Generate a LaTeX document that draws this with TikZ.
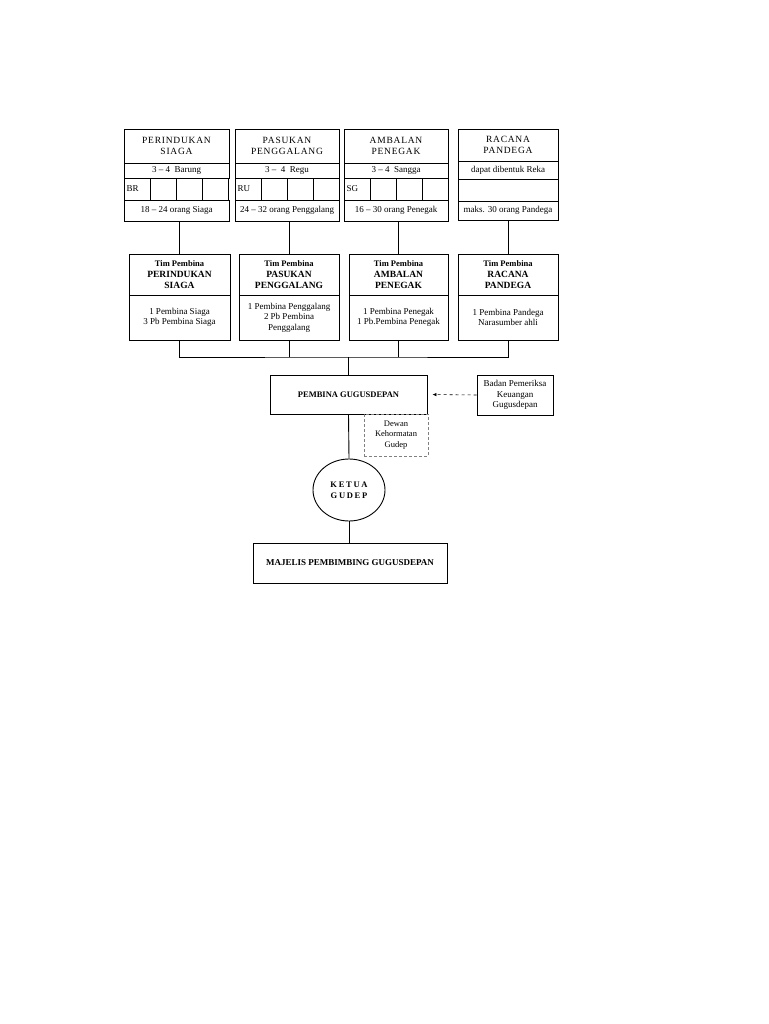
\documentclass[tikz,border=0pt]{standalone}
\usepackage{fontspec}
\setmainfont{Liberation Serif}
\usetikzlibrary{arrows.meta,shapes.geometric}

\tikzset{
  kotak/.style={draw, line width=0.9pt, inner sep=1pt, align=center,
    font=\fontsize{9}{10.5}\selectfont},
  judul/.style={kotak, font=\fontsize{9.5}{11.5}\selectfont\addfontfeature{LetterSpace=8}},
  tim/.style={kotak, font=\fontsize{9.5}{11}\selectfont\bfseries},
  garis/.style={line width=0.9pt},
}

\begin{document}
\begin{tikzpicture}[x=1pt, y=-1pt]
        \useasboundingbox (0,0) rectangle (768,1024);
        % satuan
        \node[judul, minimum width=105, minimum height=34] (J1) at (176.5,146) {PERINDUKAN\\SIAGA};
        \node[kotak, minimum width=105, minimum height=15] (K1) at (176.5,170.5) {3 -- 4 \ Barung};
        \node[kotak, minimum height=22, text width=21, inner xsep=2.5, align=left] (S1) at (137.1,189) {BR};
        \node[kotak, minimum width=105, minimum height=21] (B1) at (176.5,210.5) {18 -- 24 orang Siaga};
        \node[judul, minimum width=104, minimum height=34] (J2) at (287,146) {PASUKAN\\PENGGALANG};
        \node[kotak, minimum width=104, minimum height=15] (K2) at (287,170.5) {3 -- \ 4 \ Regu};
        \node[kotak, minimum height=22, text width=21, inner xsep=2.5, align=left] (S2) at (248,189) {RU};
        \node[kotak, minimum width=104, minimum height=21] (B2) at (287,210.5) {24 -- 32 orang Penggalang};
        \node[judul, minimum width=104, minimum height=34] (J3) at (396,146) {AMBALAN\\PENEGAK};
        \node[kotak, minimum width=104, minimum height=15] (K3) at (396,170.5) {3 -- 4 \ Sangga};
        \node[kotak, minimum height=22, text width=21, inner xsep=2.5, align=left] (S3) at (357,189) {SG};
        \node[kotak, minimum width=104, minimum height=21] (B3) at (396,210.5) {16 -- 30 orang Penegak};
        \node[judul, minimum width=100, minimum height=32] (J4) at (508,145) {RACANA\\PANDEGA};
        \node[kotak, minimum width=100, minimum height=18] (K4) at (508,170) {dapat dibentuk Reka};
        \node[kotak, minimum width=100, minimum height=22] (E4) at (508,190) {};
        \node[kotak, minimum width=100, minimum height=19] (B4) at (508,210.5) {maks. 30 orang Pandega};
        \foreach \i/\x in {1/124, 2/235, 3/344}
            \foreach \k in {1,2,3}
                \node[kotak, minimum width=26.2, minimum height=22] (S\i\k) at (\x+13.1+26.2*\k,189) {};
        % tim pembina
        \node[tim, minimum width=101, minimum height=41] (T1) at (179.5,274.5) {{\fontsize{8.5}{11}\selectfont Tim Pembina}\\PERINDUKAN\\SIAGA};
        \node[kotak, minimum width=101, minimum height=45] (U1) at (179.5,317.5) {1 Pembina Siaga\\3 Pb Pembina Siaga};
        \node[tim, minimum width=100, minimum height=41] (T2) at (289,274.5) {{\fontsize{8.5}{11}\selectfont Tim Pembina}\\PASUKAN\\PENGGALANG};
        \node[kotak, minimum width=100, minimum height=45] (U2) at (289,317.5) {1 Pembina Penggalang\\2 Pb Pembina\\Penggalang};
        \node[tim, minimum width=99, minimum height=41] (T3) at (398.5,274.5) {{\fontsize{8.5}{11}\selectfont Tim Pembina}\\AMBALAN\\PENEGAK};
        \node[kotak, minimum width=99, minimum height=45] (U3) at (398.5,317.5) {1 Pembina Penegak\\1 Pb.Pembina Penegak};
        \node[tim, minimum width=100, minimum height=41] (T4) at (508,274.5) {{\fontsize{8.5}{11}\selectfont Tim Pembina}\\RACANA\\PANDEGA};
        \node[kotak, minimum width=100, minimum height=45] (U4) at (508,317.5) {1 Pembina Pandega\\Narasumber ahli};
        \foreach \i in {1,...,4}
            \draw[garis] (T\i.north) -- (T\i.north |- B\i.south);
        % gugusdepan
        \node[kotak, minimum width=157, minimum height=39, font=\fontsize{8.5}{10}\selectfont\bfseries] (PG) at (348.5,394.5) {PEMBINA GUGUSDEPAN};
        \node[kotak, minimum width=76, minimum height=40, font=\fontsize{9}{10.5}\selectfont] (BP) at (515,395) {Badan Pemeriksa\\Keuangan\\Gugusdepan};
        \node[kotak, draw=gray, densely dashed, minimum width=64, minimum height=42, font=\fontsize{8.5}{10.5}\selectfont] (DK) at (396,435) {Dewan\\Kehormatan\\Gudep};
        \node[kotak, ellipse, minimum width=72, minimum height=62, font=\fontsize{8.5}{11.5}\selectfont\bfseries\addfontfeature{LetterSpace=20}] (KG) at (349,490) {KETUA\\GUDEP};
        \node[kotak, minimum width=194, minimum height=40, font=\fontsize{9}{10}\selectfont\bfseries] (MP) at (350,563) {MAJELIS PEMBIMBING GUGUSDEPAN};
        \coordinate (bus) at (348.5,357);
        \draw[garis] (U1.south) |- (bus) -| (U4.south);
        \draw[garis] (U2.south) -- (U2.south |- bus);
        \draw[garis] (U3.south) -- (U3.south |- bus);
        \draw[garis] (bus) -- (PG.north);
        \draw[garis] (PG.south) -- (KG.north);
        \draw[garis] (KG.south) -- (KG.south |- MP.north);
        \draw[line width=0.6pt, dashed, -{Latex[length=4pt,width=3.5pt]}, shorten >=5pt] (BP.west) -- (PG.east);
    \end{tikzpicture}
\end{document}
